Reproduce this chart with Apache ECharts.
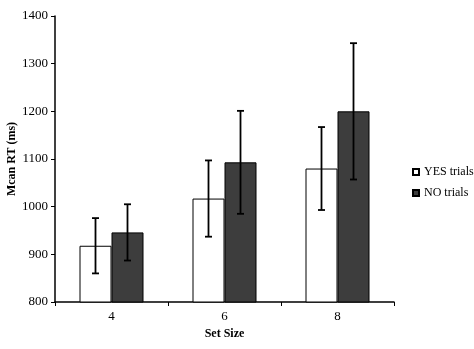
<!DOCTYPE html>
<html><head><meta charset="utf-8">
<script src="https://cdn.jsdelivr.net/npm/echarts@6/dist/echarts.min.js"></script>
<style>html,body{margin:0;padding:0;background:#fff}#c{width:474px;height:349px}</style>
</head><body><div id="c"></div>
<script>
var categories = ['4', '6', '8'];
var yesMean = [918, 1017, 1080];
var yesErr = [58, 80, 87];
var noMean = [946, 1093, 1200];
var noErr = [59, 108, 143];
var yTicks = [800, 900, 1000, 1100, 1200, 1300, 1400];

var FONT = 'Liberation Serif';
var chart = echarts.init(document.getElementById('c'));

function errSeries(name, means, errs, offset) {
  return {
    type: 'custom', name: name + ' err', silent: true, z: 10,
    data: means.map(function (m, i) { return [i, m, m - errs[i], m + errs[i]]; }),
    renderItem: function (params, api) {
      var lo = api.coord([api.value(0), api.value(2)]);
      var hi = api.coord([api.value(0), api.value(3)]);
      var x = lo[0] + offset;
      var cap = 3.5;
      var st = { stroke: '#000', lineWidth: 1.8 };
      return { type: 'group', children: [
        { type: 'line', shape: { x1: x, y1: lo[1], x2: x, y2: hi[1] }, style: st },
        { type: 'line', shape: { x1: x - cap, y1: lo[1], x2: x + cap, y2: lo[1] }, style: st },
        { type: 'line', shape: { x1: x - cap, y1: hi[1], x2: x + cap, y2: hi[1] }, style: st }
      ]};
    }
  };
}

chart.setOption({
  animation: false,
  textStyle: { fontFamily: FONT },
  grid: { left: 55, right: 80, top: 16, bottom: 47, containLabel: false, outerBoundsMode: 'none' },
  legend: {
    orient: 'vertical', left: 407, top: 161, itemGap: 9,
    itemWidth: 6, itemHeight: 6, icon: 'rect',
    textStyle: { fontFamily: FONT, fontSize: 12, color: '#000' },
    data: ['YES trials', 'NO trials']
  },
  xAxis: {
    type: 'category', data: categories,
    name: 'Set Size', nameLocation: 'middle', nameGap: 26, nameMoveOverlap: false,
    nameTextStyle: { fontFamily: FONT, fontSize: 12, fontWeight: 'bold', color: '#000' },
    axisLine: { lineStyle: { color: '#000', width: 1.5 } },
    axisTick: { show: true, length: 4, lineStyle: { color: '#000' } },
    axisLabel: { color: '#000', fontSize: 13, margin: 8 }
  },
  yAxis: {
    type: 'value', min: yTicks[0], max: yTicks[yTicks.length - 1], interval: 100,
    name: 'Mcan RT (ms)', nameLocation: 'middle', nameGap: 37, nameMoveOverlap: false,
    nameTextStyle: { fontFamily: FONT, fontSize: 12, fontWeight: 'bold', color: '#000' },
    axisLine: { show: true, lineStyle: { color: '#000', width: 1.5 } },
    axisTick: { show: true, length: 4, lineStyle: { color: '#000' } },
    axisLabel: { color: '#000', fontSize: 13, margin: 7, formatter: function (v) { return String(v); } },
    splitLine: { show: false }
  },
  series: [
    { type: 'bar', name: 'YES trials', data: yesMean, barWidth: 32, barGap: '0%',
      itemStyle: { color: '#fff', borderColor: '#000', borderWidth: 1 } },
    { type: 'bar', name: 'NO trials', data: noMean, barWidth: 32, barGap: '0%',
      itemStyle: { color: '#3d3d3d', borderColor: '#000', borderWidth: 1 } },
    errSeries('YES trials', yesMean, yesErr, -16),
    errSeries('NO trials', noMean, noErr, 16)
  ]
});
</script></body></html>
